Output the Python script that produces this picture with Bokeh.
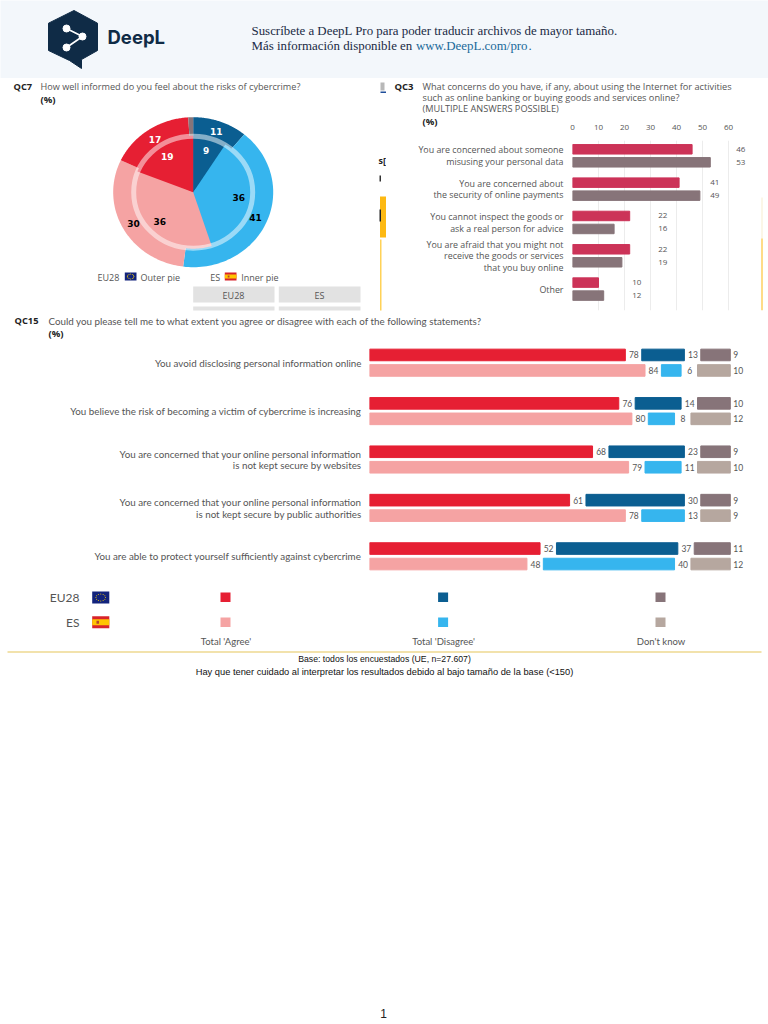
import numpy as np
from bokeh.core.properties import value
from bokeh.embed import file_html
from bokeh.layouts import column, row
from bokeh.models import FixedTicker, Range1d
from bokeh.plotting import figure
from bokeh.resources import INLINE

# ---------- data ----------
qc7_answers = ["Total 'Not informed' dark", "Total 'Not informed'", "Total 'Informed' light", "Total 'Informed'", "Don't know"]
qc7_eu28 = [11, 41, 30, 17, 1]
qc7_es = [9, 36, 36, 19]

qc3_categories = [
    "You are concerned about someone\nmisusing your personal data",
    "You are concerned about\nthe security of online payments",
    "You cannot inspect the goods or\nask a real person for advice",
    "You are afraid that you might not\nreceive the goods or services\nthat you buy online",
    "Other",
]
qc3_eu28 = [46, 41, 22, 22, 10]
qc3_second = [53, 49, 16, 19, 12]
qc3_ticks = [0, 10, 20, 30, 40, 50, 60]

qc15_statements = [
    "You avoid disclosing personal information online",
    "You believe the risk of becoming a victim of cybercrime is increasing",
    "You are concerned that your online personal information\nis not kept secure by websites",
    "You are concerned that your online personal information\nis not kept secure by public authorities",
    "You are able to protect yourself sufficiently against cybercrime",
]
qc15_agree_eu = [78, 76, 68, 61, 52]
qc15_disagree_eu = [13, 14, 23, 30, 37]
qc15_dk_eu = [9, 10, 9, 9, 11]
qc15_agree_es = [84, 80, 79, 78, 48]
qc15_disagree_es = [6, 8, 11, 13, 40]
qc15_dk_es = [10, 12, 10, 9, 12]
legend_names = ["Total 'Agree'", "Total 'Disagree'", "Don't know"]

# ---------- styles ----------
RED, PINK = "#e61f33", "#f5a3a3"
NAVY, SKY = "#0b5e91", "#36b5ee"
TAUPE, SAND = "#877479", "#b6a79f"
CRIMSON = "#cc3358"
GREY = "#555555"
DARK = "#222222"
YELLOW = "#fdb913"
PALE_YELLOW = "#ffd257"
SANS = "Open Sans"
NARROW = "Lato"
W = 768
H = 1024


def canvas(x0, x1, y0, y1, bg="#ffffff"):
    p = figure(width=x1 - x0, height=y1 - y0, x_range=Range1d(x0, x1), y_range=Range1d(y1, y0),
               x_axis_type=None, y_axis_type=None, output_backend="svg", toolbar_location=None,
               min_border=0, min_border_left=0, min_border_right=0, min_border_top=0, min_border_bottom=0,
               background_fill_color=bg, border_fill_color=bg, outline_line_color=None, frame_align=False)
    p.grid.visible = False
    return p


def txt(p, x, y, s, size=9, color=GREY, font=SANS, style="normal", align="left"):
    p.text([x], [y], text=[s], text_font_size=f"{size}px", text_color=color, text_font=value(font),
           text_font_style=style, text_align=align, text_baseline="middle")


def box(p, x0, x1, y0, y1, color, alpha=1.0):
    p.quad(left=[x0], right=[x1], top=[y0], bottom=[y1], fill_color=color, line_color=None, fill_alpha=alpha)


def flag_eu(p, x0, x1, y0, y1):
    box(p, x0, x1, y0, y1, "#12237c")
    t = np.linspace(0, 2 * np.pi, 12, endpoint=False)
    p.scatter((x0 + x1) / 2 + (x1 - x0) * 0.28 * np.cos(t), (y0 + y1) / 2 + (y1 - y0) * 0.3 * np.sin(t),
              size=1, color="#ffd500", line_color=None)


def flag_es(p, x0, x1, y0, y1):
    box(p, x0, x1, y0, y1, "#d8232a")
    h = y1 - y0
    box(p, x0, x1, y0 + h * 0.25, y1 - h * 0.25, "#ffc400")
    box(p, x0 + (x1 - x0) * 0.25, x0 + (x1 - x0) * 0.4, y0 + h * 0.38, y1 - h * 0.38, "#b5472a")


# ---------- header ----------
BAND = "#f3f7fb"
head = canvas(0, W, 0, 78, BAND)
head.patch([73.5, 97, 97, 81, 81, 69, 48, 48], [10, 22.7, 50, 59, 68, 60, 50, 22.7], color="#0f2b46")
head.multi_line([[66, 82, 66]], [[28, 36, 47]], line_color="#ffffff", line_width=1.6)
head.scatter([66, 82, 66], [28, 36, 47], size=7, color="#ffffff")
txt(head, 107, 36, "DeepL", 18.5, "#0f2b46", "Inter", "bold")
SERIF = "Liberation Serif"
txt(head, 251, 30, "Suscríbete a DeepL Pro para poder traducir archivos de mayor tamaño.", 12.9, "#1a2b45", SERIF)
txt(head, 251, 45, "Más información disponible en", 12.9, "#1a2b45", SERIF)
txt(head, 415.5, 45, "www.DeepL.com/pro", 12.9, "#1a6a9a", SERIF)
txt(head, 528, 45, ".", 12.9, "#1a6a9a", SERIF)

# ---------- QC7 pie ----------
pie = canvas(0, 386, 78, 312)
CX, CY = 192.7, 191.7


def slices(p, values, colors, rx, ry):
    edges = np.cumsum([0] + values) / 100 * 2 * np.pi
    for a0, a1, c in zip(edges[:-1], edges[1:], colors):
        t = np.linspace(a0, a1, 80)
        p.patch(np.r_[CX, CX + rx * np.sin(t)], np.r_[CY, CY - ry * np.cos(t)], fill_color=c, line_color=None)
    return (edges[:-1] + edges[1:]) / 2


def slice_labels(p, values, mids, colors, rx, ry):
    for v, m, c in zip(values, mids, colors):
        if v > 1:
            txt(p, CX + rx * np.sin(m), CY - ry * np.cos(m), str(v), 9, c, "DejaVu Sans", "bold", "center")


mo = slices(pie, qc7_eu28, [NAVY, SKY, PINK, RED, TAUPE], 80, 75)
mi = slices(pie, qc7_es, [NAVY, SKY, PINK, RED], 60, 56.5)
pie.ellipse([CX], [CY], width=[119], height=[112], fill_color=None, line_color="#ffffff", line_alpha=0.5, line_width=5)
slice_labels(pie, qc7_eu28, mo, ["#fff", "#000", "#000", "#fff", "#fff"], 68, 64)
slice_labels(pie, qc7_es, mi, ["#fff", "#000", "#000", "#fff"], 46, 43)
txt(pie, 13, 86, "QC7", 9.3, DARK, SANS, "bold")
txt(pie, 40, 86, "How well informed do you feel about the risks of cybercrime?", 9.15)
txt(pie, 40, 99, "(%)", 9.5, DARK, SANS, "bold")
txt(pie, 97, 277, "EU28", 9)
flag_eu(pie, 124.3, 136, 272, 280)
txt(pie, 140, 277, "Outer pie", 9)
txt(pie, 209.7, 277, "ES", 9)
flag_es(pie, 224.3, 236, 272, 280)
txt(pie, 240.7, 277, "Inner pie", 9)
box(pie, 192.7, 274, 286, 302, "#e2e2e2")
box(pie, 278.3, 360, 286, 302, "#e2e2e2")
box(pie, 192.7, 274, 306, 310, "#e2e2e2")
box(pie, 278.3, 360, 306, 310, "#e2e2e2")
txt(pie, 233, 295, "EU28", 9, GREY, SANS, "normal", "center")
txt(pie, 319, 295, "ES", 9, GREY, SANS, "normal", "center")
box(pie, 379.5, 386, 196, 237, YELLOW)
box(pie, 379.5, 381, 239, 310, PALE_YELLOW)
box(pie, 380, 384, 82, 90, "#b8b8b8")
box(pie, 380, 386, 91, 92.5, "#1f4e9a")
txt(pie, 378, 160, "s[", 9, "#222222", SANS, "bold")
box(pie, 379, 380.5, 175, 181, "#333333")
box(pie, 379, 380.5, 209, 221, "#222222")

# ---------- QC3 ----------
q3_title = canvas(386, W, 78, 128)
q3_title.margin = (0, 0, -14, 0)
txt(q3_title, 394, 86, "QC3", 9.5, DARK, SANS, "bold")
txt(q3_title, 422, 86, "What concerns do you have, if any, about using the Internet for activities", 9.2)
txt(q3_title, 422, 97, "such as online banking or buying goods and services online?", 9.2)
txt(q3_title, 422, 108, "(MULTIPLE ANSWERS POSSIBLE)", 9.2)
txt(q3_title, 422, 120.5, "(%)", 9.5, DARK, SANS, "bold")

PX3 = 2.6
frame3 = W - 572
row3 = 33.33
q3 = figure(width=W - 386, height=198, x_axis_location="above",
            x_range=Range1d(0, frame3 / PX3),
            y_range=Range1d((310 - 155.3) / row3, -(155.3 - 140) / row3),
            output_backend="svg", toolbar_location=None,
            min_border_left=572 - 386, min_border_right=0, min_border_top=26, min_border_bottom=2,
            outline_line_color=None, frame_align=False, border_fill_alpha=0, background_fill_alpha=0)
idx3 = np.arange(len(qc3_categories))
q3.hbar(y=idx3 - 0.195, left=0, right=qc3_eu28, height=0.285, color=CRIMSON)
q3.hbar(y=idx3 + 0.195, left=0, right=qc3_second, height=0.285, color=TAUPE)
col3 = [np.ceil(max(a, b) / 10) * 10 + 4.7 for a, b in zip(qc3_eu28, qc3_second)]
common = dict(text_font_size="8px", text_color=GREY, text_font=value(SANS), text_align="center", text_baseline="middle")
q3.text(col3, idx3 - 0.195, text=[str(v) for v in qc3_eu28], **common)
q3.text(col3, idx3 + 0.195, text=[str(v) for v in qc3_second], **common)
x761 = (761 - 572) / PX3
x762 = (762 - 572) / PX3
q3.quad(left=[x761], right=[x762], top=[(197 - 155.3) / row3], bottom=[(238 - 155.3) / row3], color="#f8eecf", line_color=None)
q3.quad(left=[x761], right=[x762], top=[(238 - 155.3) / row3], bottom=[(310 - 155.3) / row3], color=YELLOW, line_color=None)
q3.xaxis.ticker = FixedTicker(ticks=qc3_ticks)
q3.xaxis.axis_line_color = None
q3.xaxis.major_tick_line_color = None
q3.xaxis.minor_tick_line_color = None
q3.xaxis.major_label_standoff = 5
q3.xaxis.major_label_text_font_size = "8px"
q3.xaxis.major_label_text_color = GREY
q3.xaxis.major_label_text_font = SANS
q3.yaxis.ticker = FixedTicker(ticks=list(idx3))
q3.yaxis.major_label_overrides = {int(i): c for i, c in zip(idx3, qc3_categories)}
q3.yaxis.axis_line_color = None
q3.yaxis.major_tick_line_color = None
q3.yaxis.minor_tick_line_color = None
q3.yaxis.major_label_standoff = 3
q3.yaxis.major_label_text_font_size = "8.9px"
q3.yaxis.major_label_text_line_height = 0.9
q3.yaxis.major_label_text_color = GREY
q3.yaxis.major_label_text_font = SANS
q3.ygrid.visible = False
q3.xgrid.grid_line_color = "#ececec"

# ---------- QC15 ----------
q15_title = canvas(0, W, 312, 340)
txt(q15_title, 14, 320, "QC15", 9.3, DARK, SANS, "bold")
txt(q15_title, 48, 320, "Could you please tell me to what extent you agree or disagree with each of the following statements?", 9.8, GREY, NARROW)
txt(q15_title, 48, 332.7, "(%)", 9.5, DARK, SANS, "bold")

PX = 3.28
GAP = 5
row15 = 48.4
frame15 = W - 369
q15 = figure(width=W, height=240, x_range=Range1d(0, frame15 / PX), y_range=Range1d(4.5, -0.5 + 2 / row15),
             output_backend="svg", toolbar_location=None,
             min_border_left=369, min_border_right=0, min_border_top=0, min_border_bottom=0,
             x_axis_type=None, outline_line_color=None, frame_align=False)
idx = np.arange(len(qc15_statements))
labelstyle = dict(text_font_size="8.5px", text_color=GREY, text_font=value(NARROW), text_baseline="middle")
for off, agree, dis, dk, cols in [(-0.16, qc15_agree_eu, qc15_disagree_eu, qc15_dk_eu, (RED, NAVY, TAUPE)),
                                  (0.16, qc15_agree_es, qc15_disagree_es, qc15_dk_es, (PINK, SKY, SAND))]:
    a, d, k = map(np.array, (agree, dis, dk))
    y = idx + off
    q15.hbar(y=y, left=0, right=a, height=0.24, color=cols[0])
    q15.hbar(y=y, left=a + GAP, right=a + GAP + d, height=0.24, color=cols[1])
    q15.hbar(y=y, left=a + d + 2 * GAP, right=a + d + k + 2 * GAP, height=0.24, color=cols[2])
    q15.text(a + 2.6, y, text=[str(v) for v in a], text_align="center", **labelstyle)
    q15.text(a + GAP + d + 2.6, y, text=[str(v) for v in d], text_align="center", **labelstyle)
    q15.text(a + d + k + 2 * GAP + 0.9, y, text=[str(v) for v in k], text_align="left", **labelstyle)
q15.yaxis.ticker = FixedTicker(ticks=list(idx))
q15.yaxis.major_label_overrides = {int(i): c for i, c in zip(idx, qc15_statements)}
q15.yaxis.axis_line_color = None
q15.yaxis.major_tick_line_color = None
q15.yaxis.minor_tick_line_color = None
q15.yaxis.major_label_standoff = 2
q15.yaxis.major_label_text_font_size = "9.8px"
q15.yaxis.major_label_text_line_height = 0.95
q15.yaxis.major_label_text_color = GREY
q15.yaxis.major_label_text_font = NARROW
q15.grid.visible = False

# ---------- legend and footer ----------
foot = canvas(0, W, 580, H)
txt(foot, 79, 597, "EU28", 12, GREY, NARROW, "normal", "right")
txt(foot, 79, 621.7, "ES", 12, GREY, NARROW, "normal", "right")
flag_eu(foot, 91.7, 108.8, 591, 603)
flag_es(foot, 91.7, 108.8, 615.7, 627.7)
for name, cx, top, bottom in zip(legend_names, [225, 442.6, 660], [RED, NAVY, TAUPE], [PINK, SKY, SAND]):
    box(foot, cx - 5, cx + 5, 592, 601.5, top)
    box(foot, cx - 5, cx + 5, 617, 626.5, bottom)
    txt(foot, cx + 0.5, 641, name, 9.5, GREY, NARROW, "normal", "center")
box(foot, 7, 761, 651, 652, "#e6c65a")
FOOTFONT = "Liberation Sans"
txt(foot, 384, 658.5, "Base: todos los encuestados (UE, n=27.607)", 8.7, "#111111", FOOTFONT, "normal", "center")
txt(foot, 384, 671.5, "Hay que tener cuidado al interpretar los resultados debido al bajo tamaño de la base (<150)", 9.3, "#111111", FOOTFONT, "normal", "center")
txt(foot, 383, 1013, "1", 12, "#222222", FOOTFONT, "normal", "center")

page = column(head, row(pie, column(q3_title, q3, spacing=0), spacing=0), q15_title, q15, foot, spacing=0)
open("out.html", "w").write(file_html(page, INLINE))
